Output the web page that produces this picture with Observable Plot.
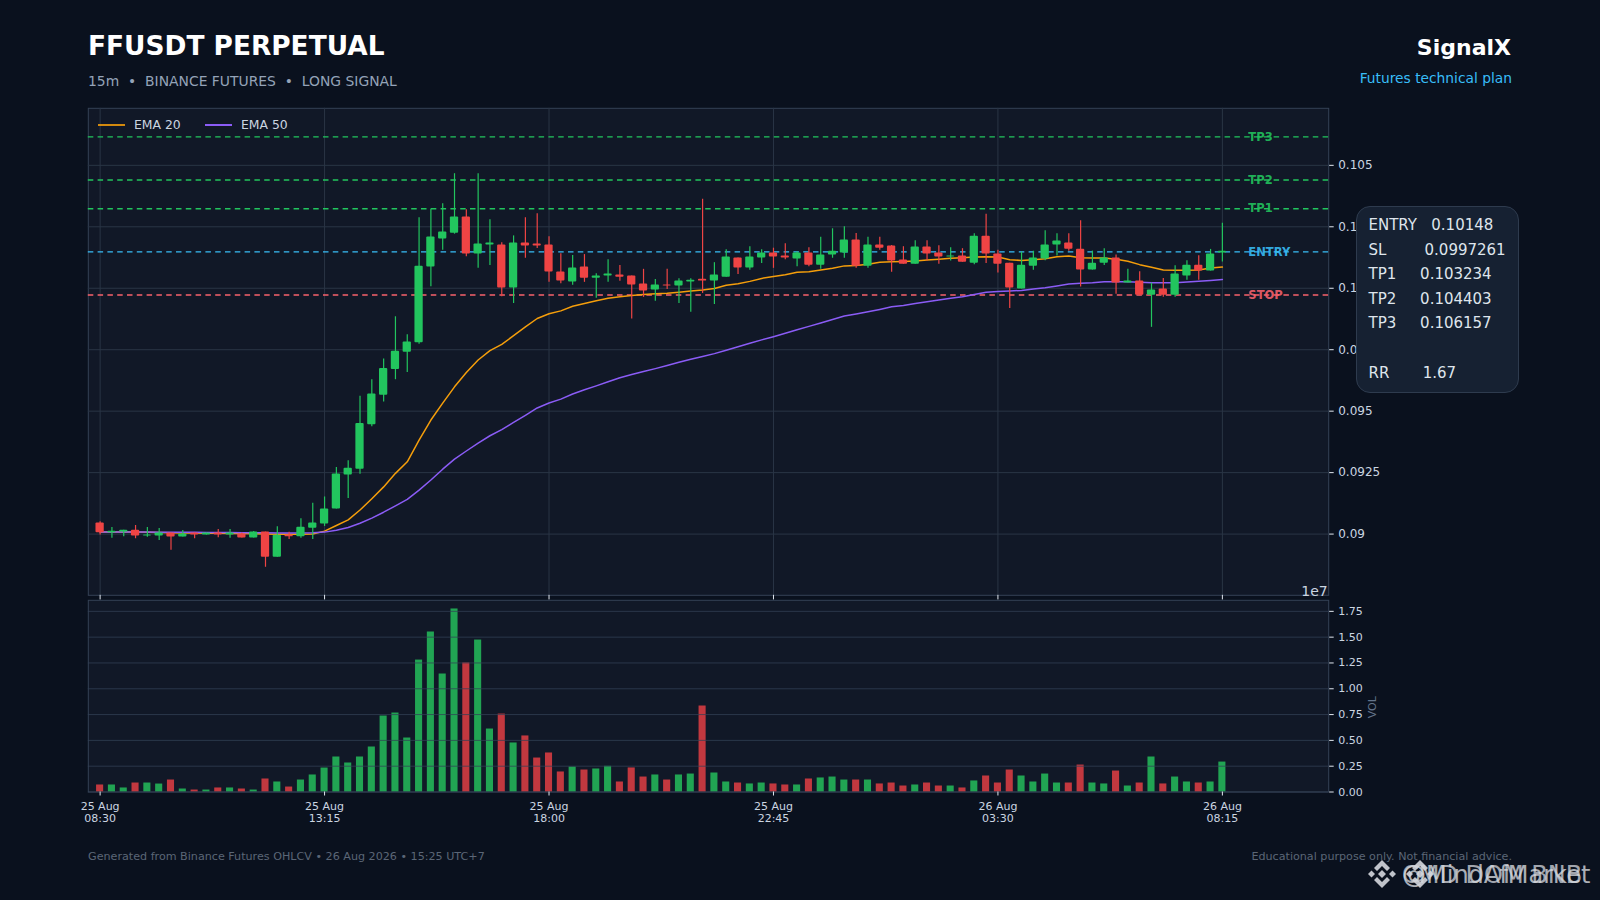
<!DOCTYPE html>
<html>
<head>
<meta charset="utf-8">
<script src="https://cdn.jsdelivr.net/npm/d3@7"></script>
<script src="https://cdn.jsdelivr.net/npm/@observablehq/plot@0.6"></script>
<style>
html,body{margin:0;padding:0;background:#0a111e;width:1600px;height:900px;overflow:hidden;font-family:"DejaVu Sans",sans-serif;}
.t{position:absolute;white-space:pre;line-height:1;}
#box{position:absolute;left:1355.5px;top:206px;width:163px;height:187px;box-sizing:border-box;background:#162132;border:1px solid #2e3b4e;border-radius:14px;}
#box div{position:absolute;left:12px;font-size:15px;color:#dfe5ec;white-space:pre;line-height:1;}
.lg{position:absolute;height:1.5px;top:124px;width:27px;}
</style>
</head>
<body>
<div id="root"></div>
<script>
// prices are stored in units of 0.00001
const PRICE_UNIT = 1e-5;
const opens  = [9045,9005,9008,9016,8992,8992,9004,8988,9004,8996,9004,8996,9000,8984,9008,8906,8996,8989,9024,9041,9102,9240,9264,9445,9565,9670,9740,9778,10086,10200,10224,10290,10139,10176,10176,10001,10184,10180,10176,10066,10025,10086,10041,10050,10054,10050,10017,9993,10013,10009,10025,10037,10029,10045,10123,10082,10123,10143,10131,10119,10143,10094,10135,10143,10196,10090,10176,10172,10115,10098,10168,10143,10127,10131,10102,10212,10139,10102,9997,10090,10119,10176,10184,10159,10074,10102,10123,10021,10029,9972,9997,9972,10050,10094,10070,10143];
const highs  = [9050,9027,9016,9035,9027,9023,9004,9015,9004,9004,9019,9019,9004,9011,9008,9030,9007,9062,9125,9151,9271,9298,9561,9628,9712,9884,9811,10287,10321,10344,10466,10319,10466,10279,10185,10213,10287,10303,10209,10140,10133,10137,10059,10116,10093,10050,10077,10036,10077,10039,10039,10362,10104,10157,10123,10169,10157,10163,10181,10147,10165,10207,10242,10250,10223,10207,10207,10174,10169,10193,10193,10173,10165,10161,10222,10301,10155,10102,10147,10151,10234,10222,10222,10275,10151,10161,10135,10077,10067,10021,10040,10092,10112,10132,10158,10264];
const lows   = [8996,8983,8989,8981,8987,8974,8934,8988,8981,8996,8985,8983,8984,8984,8865,8906,8978,8983,8978,9031,9102,9145,9243,9437,9537,9628,9657,9772,10006,10155,10220,10128,10081,10093,9965,9938,10122,10162,10024,10018,10012,10024,9959,10024,10028,9875,9963,9947,9995,9938,9902,9979,9934,10045,10056,10073,10101,10081,10116,10087,10087,10077,10122,10122,10081,10081,10155,10065,10098,10098,10111,10098,10111,10106,10096,10101,10062,9918,9997,10073,10112,10131,10151,10005,10074,10093,9976,10021,9968,9841,9963,9963,10033,10033,10070,10107];
const closes = [9005,9012,9016,8992,8996,9004,8988,9000,8996,9004,8996,9004,8984,9008,8906,8995,8989,9028,9045,9102,9244,9268,9450,9570,9674,9744,9781,10090,10208,10229,10290,10139,10180,10184,10001,10184,10172,10172,10066,10029,10082,10041,10050,10058,10045,10013,9989,10013,10009,10029,10033,10029,10054,10127,10082,10127,10143,10127,10123,10143,10094,10135,10151,10196,10090,10176,10163,10111,10098,10168,10139,10127,10131,10106,10212,10139,10098,10001,10094,10123,10176,10192,10159,10074,10102,10123,10021,10029,9972,9993,9972,10058,10094,10070,10139,10151];
const ema20  = [9008,9008,9008,9008,9007,9006,9005,9004,9004,9003,9003,9002,9002,9001,9000,8999,8999,8999,9000,9012,9035,9058,9098,9144,9192,9247,9294,9382,9464,9533,9599,9657,9708,9746,9772,9807,9843,9877,9896,9908,9927,9938,9949,9959,9965,9971,9975,9978,9980,9984,9989,9993,9999,10012,10018,10028,10040,10048,10055,10065,10067,10074,10081,10091,10093,10098,10106,10108,10109,10111,10115,10118,10122,10124,10127,10128,10127,10116,10113,10116,10120,10128,10131,10124,10123,10123,10118,10110,10096,10085,10074,10073,10073,10074,10082,10086];
const ema50  = [9008,9008,9008,9008,9008,9007,9007,9007,9007,9006,9006,9006,9005,9005,9005,9004,9004,9004,9005,9008,9016,9027,9044,9065,9089,9115,9141,9179,9220,9264,9305,9338,9370,9400,9425,9454,9483,9513,9533,9549,9570,9587,9603,9620,9636,9649,9661,9673,9686,9699,9711,9722,9734,9748,9762,9776,9790,9803,9817,9831,9845,9859,9873,9887,9895,9904,9914,9925,9930,9938,9945,9952,9959,9965,9975,9984,9987,9989,9991,9997,10002,10009,10017,10020,10022,10026,10026,10026,10024,10022,10022,10022,10025,10028,10032,10036];
const volumes = [0.068,0.068,0.039,0.087,0.087,0.077,0.116,0.029,0.019,0.019,0.039,0.039,0.029,0.019,0.126,0.097,0.048,0.116,0.165,0.232,0.339,0.281,0.339,0.436,0.736,0.765,0.523,1.278,1.55,1.143,1.773,1.25,1.472,0.61,0.755,0.475,0.543,0.329,0.378,0.194,0.242,0.213,0.223,0.249,0.097,0.233,0.145,0.165,0.116,0.165,0.174,0.833,0.184,0.097,0.087,0.078,0.087,0.078,0.068,0.068,0.126,0.136,0.145,0.116,0.116,0.116,0.078,0.087,0.058,0.068,0.087,0.058,0.058,0.039,0.107,0.155,0.087,0.213,0.155,0.097,0.174,0.087,0.087,0.261,0.087,0.078,0.203,0.058,0.087,0.339,0.078,0.145,0.097,0.087,0.097,0.29];

const xTickIndex  = [0,19,38,57,76,95];
const xTickLabels = ["25 Aug\n08:30","25 Aug\n13:15","25 Aug\n18:00","25 Aug\n22:45","26 Aug\n03:30","26 Aug\n08:15"];
const priceTicks  = [0.09,0.0925,0.095,0.0975,0.1,0.1025,0.105];
const priceTickLabels = ["0.09","0.0925","0.095","0.0975","0.1","0.1025","0.105"];
const volTicks    = [0,0.25,0.5,0.75,1,1.25,1.5,1.75];
const levelNames  = ["TP3","TP2","TP1","ENTRY","STOP"];
const levelPrices = [0.106157,0.104403,0.103234,0.10148,0.0997261];
const levelColors = ["#22c55e","#22c55e","#22c55e","#38bdf8","#f8616c"];
const levelLabelX = 97.2;
const infoRows = ["ENTRY   0.10148","SL        0.0997261","TP1     0.103234","TP2     0.104403","TP3     0.106157","","RR       1.67"];

const UP="#22c55e", DOWN="#ef4444", GRID="#2a3545", FRAME="#354256", INK="#cbd5e1";
const idx = d3.range(opens.length);
const candles = idx.map(i=>({i,o:opens[i]*PRICE_UNIT,h:highs[i]*PRICE_UNIT,l:lows[i]*PRICE_UNIT,c:closes[i]*PRICE_UNIT,v:volumes[i],e20:ema20[i]*PRICE_UNIT,e50:ema50[i]*PRICE_UNIT,up:closes[i]>=opens[i]}));
const levels = levelNames.map((n,k)=>({n,p:levelPrices[k],col:levelColors[k]}));
const xDomain=[-1,104];

const root=document.getElementById("root");
function txt(s,css){const d=document.createElement("div");d.className="t";d.textContent=s;d.style.cssText=css;root.appendChild(d);return d;}

txt("FFUSDT PERPETUAL","left:88px;top:33px;font-size:26.4px;font-weight:700;color:#ffffff;");
txt("15m  •  BINANCE FUTURES  •  LONG SIGNAL","left:88px;top:75px;font-size:13.9px;color:#94a3b8;");
txt("SignalX","right:89px;top:36.5px;font-size:22px;font-weight:700;color:#ffffff;");
txt("Futures technical plan","right:88px;top:71.5px;font-size:13.8px;color:#38bdf8;");

const priceChart=Plot.plot({
  width:1600,height:600,
  marginLeft:87.8,marginRight:271.8,marginTop:107.8,marginBottom:5.2,
  style:{background:"transparent",color:INK,fontFamily:"DejaVu Sans",overflow:"visible",position:"absolute",left:"0px",top:"0px"},
  x:{domain:xDomain,axis:null},
  y:{domain:[0.08751,0.10732],axis:null},
  marks:[
    Plot.frame({fill:"#111827",stroke:FRAME}),
    Plot.ruleY(priceTicks,{stroke:GRID,strokeWidth:1}),
    Plot.ruleX(xTickIndex,{stroke:GRID,strokeWidth:1}),
    Plot.ruleY(levels,{y:"p",stroke:"col",strokeWidth:1.3,strokeDasharray:"5.5,4.3"}),
    Plot.text(levels,{x:()=>levelLabelX,y:"p",text:"n",fill:"col",fontWeight:"bold",fontSize:11.5,textAnchor:"start",fillOpacity:0.9}),
    Plot.line(candles,{x:"i",y:"e20",stroke:"#f59e0b",strokeWidth:1.5,curve:"linear"}),
    Plot.line(candles,{x:"i",y:"e50",stroke:"#8b5cf6",strokeWidth:1.5,curve:"linear"}),
    Plot.ruleX(candles,{x:"i",y1:"l",y2:"h",stroke:d=>d.up?UP:DOWN,strokeWidth:1.2}),
    Plot.rect(candles,{x1:d=>d.i-0.35,x2:d=>d.i+0.35,y1:d=>Math.min(d.o,d.c),y2:d=>Math.max(d.o,d.c),fill:d=>d.up?UP:DOWN,rx:1}),
    Plot.axisX(xTickIndex,{anchor:"bottom",tickSize:4.7,tickFormat:()=>"",stroke:"#e2e8f0",label:null}),
    Plot.axisY(priceTicks,{anchor:"right",tickSize:4.5,tickPadding:5,fontSize:12,tickFormat:(d)=>priceTickLabels[priceTicks.indexOf(d)],label:null,stroke:"#e2e8f0"}),
    Plot.text(["1e7"],{frameAnchor:"bottom-right",fontSize:14,fill:INK,dy:0.5,dx:-1,lineAnchor:"bottom"})
  ]
});
root.appendChild(priceChart);

const volChart=Plot.plot({
  width:1600,height:240,
  marginLeft:87.8,marginRight:271.8,marginTop:9.8,marginBottom:38.5,
  style:{background:"transparent",color:INK,fontFamily:"DejaVu Sans",overflow:"visible",position:"absolute",left:"0px",top:"590px"},
  x:{domain:xDomain,axis:null},
  y:{domain:[0,1.857],axis:null},
  marks:[
    Plot.frame({fill:"#111827",stroke:FRAME}),
    Plot.rectY(candles,{x1:d=>d.i-0.3,x2:d=>d.i+0.3,y1:0,y2:"v",fill:d=>d.up?"#21a453":"#c2383f"}),
    Plot.ruleY(volTicks,{stroke:"#334155",strokeWidth:1,strokeOpacity:0.75}),
    Plot.axisX(xTickIndex,{anchor:"bottom",tickSize:4,tickPadding:5.5,fontSize:11,lineHeight:1.1,tickFormat:d=>xTickLabels[xTickIndex.indexOf(d)],label:null,stroke:"#e2e8f0"}),
    Plot.axisY(volTicks,{anchor:"right",tickSize:4.5,tickPadding:5,fontSize:11,tickFormat:d=>d.toFixed(2),label:null,stroke:"#e2e8f0"}),
    Plot.text(["VOL"],{frameAnchor:"right",rotate:-90,dx:43.5,fontSize:11,fill:"#64748b"})
  ]
});
root.appendChild(volChart);

// legend
txt("EMA 20","left:134px;top:119px;font-size:12.4px;color:#cbd5e1;");
txt("EMA 50","left:241px;top:119px;font-size:12.4px;color:#cbd5e1;");
const a=document.createElement("div");a.className="lg";a.style.cssText+="left:98px;background:#f59e0b;opacity:.85;";root.appendChild(a);
const b=document.createElement("div");b.className="lg";b.style.cssText+="left:205px;background:#8b5cf6;";root.appendChild(b);

// info box
const box=document.createElement("div");box.id="box";
infoRows.forEach((r,k)=>{const d=document.createElement("div");d.textContent=r;d.style.top=(11+k*24.6)+"px";box.appendChild(d);});
root.appendChild(box);

// footer
txt("Generated from Binance Futures OHLCV • 26 Aug 2026 • 15:25 UTC+7","left:88px;top:851px;font-size:11.15px;color:#5b6676;");
txt("Educational purpose only. Not financial advice.","right:88px;top:851px;font-size:11.15px;color:#5b6676;");

// watermark
function logo(cx,cy){
  const s=document.createElementNS("http://www.w3.org/2000/svg","svg");
  s.setAttribute("width",30);s.setAttribute("height",30);s.setAttribute("viewBox","-15 -15 30 30");
  s.style.cssText=`position:absolute;left:${cx-15}px;top:${cy-15}px;`;
  s.innerHTML='<g fill="#d4d7dd" fill-opacity="0.9"><path d="M0 -14 L8 -6 L5 -3 L0 -8 L-5 -3 L-8 -6Z"/><path d="M0 14 L8 6 L5 3 L0 8 L-5 3 L-8 6Z"/><path d="M-14 0 L-10.5 -3.5 L-7 0 L-10.5 3.5Z"/><path d="M14 0 L10.5 -3.5 L7 0 L10.5 3.5Z"/><path d="M0 -4 L4 0 L0 4 L-4 0Z"/></g>';
  root.appendChild(s);
}
logo(1382,873.5);logo(1420,873.5);
txt("@MindAfMarket","left:1402px;top:863px;font-size:24px;color:#d4d7dd;opacity:.8;");
txt("CMD DOM BNB","left:1402px;top:863px;font-size:24px;color:#d4d7dd;opacity:.75;");
</script>
</body>
</html>
